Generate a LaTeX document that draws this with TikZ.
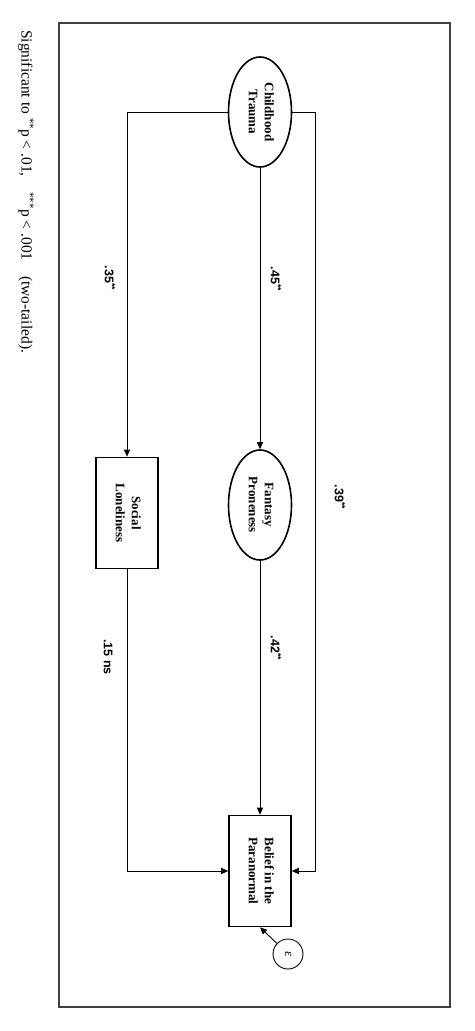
\documentclass[tikz,border=0pt]{standalone}
\usepackage{fontspec,graphicx}
\setmainfont{Liberation Serif}
\setsansfont{Liberation Sans}
\usetikzlibrary{shapes.geometric,arrows.meta}
\newcommand{\vlabel}[1]{\rotatebox{-90}{\begin{tabular}{@{}c@{}}#1\end{tabular}}}

\begin{document}
\begin{tikzpicture}[x=1pt,y=-1pt,
  latent/.style={ellipse,draw,line width=1.6pt,inner sep=0pt,minimum width=63pt,minimum height=110pt,font=\bfseries\fontsize{13}{16}\selectfont},
  observed/.style={rectangle,draw,line width=1.6pt,inner sep=0pt,minimum width=62pt,minimum height=111pt,font=\bfseries\fontsize{13}{16}\selectfont},
  link/.style={line width=.9pt,-{Triangle[length=7pt,width=6pt]}},
  coef/.style={rotate=-90,inner sep=1pt,font=\sffamily\bfseries\fontsize{12.5}{14}\selectfont}]
\path[use as bounding box] (0,0) rectangle (474,1031);
\draw[black!75,line width=1.2pt] (59,23) rectangle (450,1007);
\node[rotate=-90,anchor=west,inner sep=0pt,font=\fontsize{15.5}{18}\selectfont] (note) at (26,30) {Significant to \textsuperscript{**}p < .01,\quad\textsuperscript{***}p < .001\quad(two-tailed).};

\node[latent] (trauma) at (260,112) {\vlabel{Childhood\\Trauma}};
\node[latent] (fantasy) at (260,505) {\vlabel{Fantasy\\Proneness}};
\node[observed] (lonely) at (127,513) {\vlabel{Social\\Loneliness}};
\node[observed] (belief) at (260,871) {\vlabel{Belief in the\\Paranormal}};
\node[circle,draw,line width=.9pt,inner sep=0pt,minimum size=30pt,font=\fontsize{13}{15}\selectfont] (eps) at (288,954) {\rotatebox{-90}{ε}};
\coordinate (bend) at (315,871);

\draw[link] (trauma.south) -- (fantasy.north);
\draw[link] (trauma.west) -| (lonely.north);
\draw[link] (trauma.east) -| (bend) -- (belief.east);
\draw[link] (fantasy.south) -- (belief.north);
\draw[link] (lonely.south) |- (belief.west);
\draw[link] (eps) -- (belief.south);

\node[coef] (c45) at (276,279) {.45\textsuperscript{**}};
\node[coef] (c35) at (110,278) {.35\textsuperscript{**}};
\node[coef] (c42) at (276,648) {.42\textsuperscript{**}};
\node[coef] (c39) at (340,497) {.39\textsuperscript{**}};
\node[coef] (c15) at (108,657) {.15 ns};
\end{tikzpicture}
\end{document}
